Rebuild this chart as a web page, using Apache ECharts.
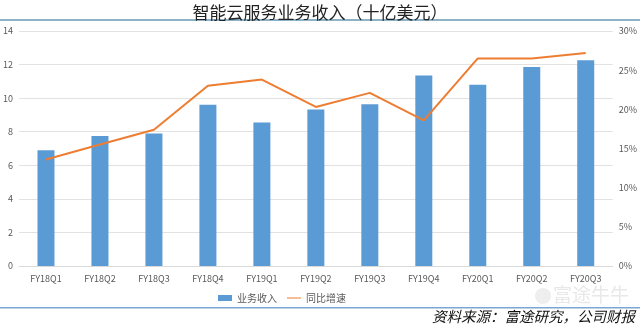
<!DOCTYPE html>
<html><head><meta charset="utf-8">
<script src="https://cdn.jsdelivr.net/npm/echarts@6/dist/echarts.min.js"></script>
<style>html,body{margin:0;padding:0;background:#fff}#c{width:640px;height:328px}</style>
</head><body><div id="c"></div>
<script>
const categories = ['FY18Q1','FY18Q2','FY18Q3','FY18Q4','FY19Q1','FY19Q2','FY19Q3','FY19Q4','FY20Q1','FY20Q2','FY20Q3'];
const revenue = [6.9, 7.75, 7.9, 9.6, 8.55, 9.33, 9.63, 11.35, 10.8, 11.85, 12.26];
const growth = [13.6, 15.5, 17.4, 23.0, 23.8, 20.3, 22.1, 18.6, 26.5, 26.5, 27.2];
const leftTicks = {min: 0, max: 14, interval: 2};
const rightTicks = {min: 0, max: 30, interval: 5};
const titleText = '智能云服务业务收入（十亿美元）';
const sourceText = '资料来源：富途研究，公司财报';
const watermarkText = '富途牛牛';
const seriesNames = ['业务收入', '同比增速'];

const chart = echarts.init(document.getElementById('c'), null, {renderer: 'canvas'});
const font = '"Microsoft YaHei","Noto Sans CJK SC",sans-serif';
chart.setOption({
  animation: false,
  backgroundColor: '#fff',
  title: {text: titleText, left: 'center', top: -1,
    textStyle: {fontSize: 17, fontWeight: 'normal', color: '#222', fontFamily: font}},
  graphic: [
    {type: 'rect', shape: {x: 0, y: 19, width: 640, height: 2}, style: {fill: '#8db3c9'}},
    {type: 'rect', shape: {x: 0, y: 307, width: 640, height: 1.5}, style: {fill: '#7aa7d2'}},
    {type: 'text', right: 5, top: 309, style: {text: sourceText, font: 'italic 14.5px ' + font, fill: '#111'}},
    {type: 'text', left: 553, top: 285, style: {text: watermarkText, font: '19px ' + font, fill: '#e8e8e8'}},
    {type: 'circle', shape: {cx: 543, cy: 296, r: 8}, style: {fill: '#eeeeee'}}
  ],
  legend: {
    data: [
      {name: seriesNames[0], icon: 'rect'},
      {name: seriesNames[1], icon: 'path://M0,0 L0.01,0 M0,2.5 L14,2.5 L14,3.5 L0,3.5 Z M0,6 L0.01,6'}
    ],
    left: 213, top: 288, itemGap: 10,
    itemWidth: 14, itemHeight: 6,
    textStyle: {fontSize: 10, color: '#595959', fontFamily: font}},
  grid: {left: 15, right: 27, top: 31, bottom: 62, containLabel: false},
  xAxis: {type: 'category', data: categories,
    axisLine: {show: true, lineStyle: {color: '#d9d9d9'}}, axisTick: {show: false},
    axisLabel: {fontSize: 9, color: '#595959', margin: 8, fontFamily: font}},
  yAxis: [
    {type: 'value', min: leftTicks.min, max: leftTicks.max, interval: leftTicks.interval,
      axisLine: {show: false}, axisTick: {show: false},
      axisLabel: {fontSize: 9, color: '#595959', margin: 6, fontFamily: font},
      splitLine: {lineStyle: {color: '#e2e2e2'}}},
    {type: 'value', min: rightTicks.min, max: rightTicks.max, interval: rightTicks.interval,
      axisLine: {show: false}, axisTick: {show: false},
      axisLabel: {fontSize: 9, color: '#595959', margin: 6, formatter: '{value}%', fontFamily: font},
      splitLine: {show: false}}
  ],
  series: [
    {name: seriesNames[0], type: 'bar', data: revenue, barWidth: 17, itemStyle: {color: '#5b9bd5'}},
    {name: seriesNames[1], type: 'line', yAxisIndex: 1, data: growth, symbol: 'none',
      lineStyle: {color: '#ed7d31', width: 2}, itemStyle: {color: '#ed7d31'}}
  ]
});
</script></body></html>
